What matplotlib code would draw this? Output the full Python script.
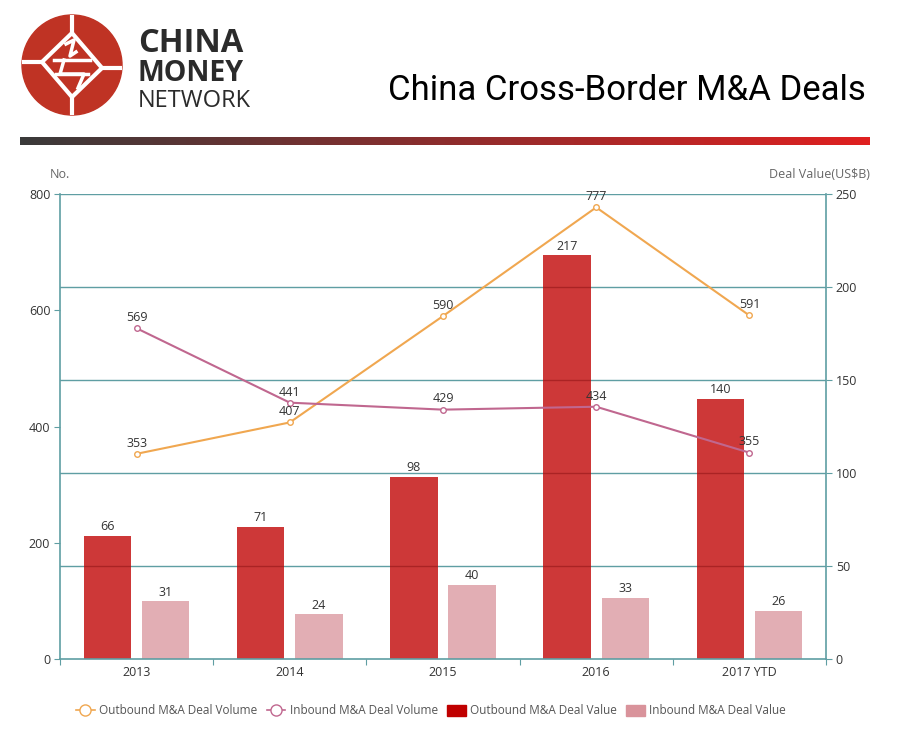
import matplotlib.pyplot as plt
import numpy as np
from matplotlib.lines import Line2D
from matplotlib.patches import Patch, Circle, Polygon

years = ["2013", "2014", "2015", "2016", "2017 YTD"]
out_volume = [353, 407, 590, 777, 591]
in_volume = [569, 441, 429, 434, 355]
out_value = [66, 71, 98, 217, 140]
in_value = [31, 24, 40, 33, 26]

c_out_line = "#f0a750"
c_in_line = "#c0678f"
c_out_bar = "#c00000"
c_in_bar = "#d9939b"
teal = "#5f9ea3"
txt = "#333333"

plt.rcParams['font.family'] = ['Open Sans', 'DejaVu Sans']

fig = plt.figure(figsize=(9.11, 7.5), dpi=100)

# header overlay in pixel coordinates
hd = fig.add_axes([0, 0, 1, 1])
hd.set_xlim(0, 911)
hd.set_ylim(750, 0)
hd.axis("off")

# logo
hd.add_patch(Circle((72, 65), 50, color="#bf3324"))
w = dict(color="white", lw=3, solid_capstyle="butt")
hd.plot([72, 72], [15, 33], **w)
hd.plot([72, 72], [97, 115], **w)
hd.plot([22, 42], [62, 62], **w)
hd.plot([102, 122], [68, 68], **w)
hd.add_patch(Polygon([(72, 33), (42, 62), (72, 97), (102, 68)], closed=True,
                     fill=False, ec="white", lw=3))
# inner glyph strokes
hd.plot([66, 74, 70, 76], [44, 40, 56, 52], color="white", lw=2.5)
hd.plot([54, 90], [60, 60], color="white", lw=2.5)
hd.plot([56, 88], [74, 74], color="white", lw=2.5)
hd.plot([64, 60, 84, 78], [60, 74, 74, 88], color="white", lw=2.5)

hd.text(138, 52, "CHINA", fontsize=23.5, fontweight="bold", color="#2b2b2b",
        va="baseline", ha="left")
hd.text(138, 81, "MONEY", fontsize=20.5, fontweight="bold", color="#2b2b2b",
        va="baseline", ha="left")
hd.text(138, 107, "NETWORK", fontsize=17, color="#2b2b2b",
        va="baseline", ha="left")

hd.text(866, 91, "China Cross-Border M&A Deals", fontsize=25, color="black",
        va="center", ha="right", family=["Roboto", "DejaVu Sans"])

# gradient bar
grad = np.linspace(0, 1, 256)
c0 = np.array([0x3a, 0x3a, 0x3a]) / 255
c1 = np.array([0xe0, 0x20, 0x20]) / 255
img = (c0[None, :] * (1 - grad[:, None]) + c1[None, :] * grad[:, None])[None, :, :]
hd.imshow(img, extent=[20, 870, 145, 137], aspect="auto")
hd.set_xlim(0, 911)
hd.set_ylim(750, 0)

# chart
ax = fig.add_axes([60 / 911, 1 - 659 / 750, (826 - 60) / 911, (659 - 194) / 750])
ax2 = ax.twinx()
ax.set_zorder(ax2.get_zorder() + 1)
ax.patch.set_visible(False)

x = np.arange(len(years))
bw = 0.31
off = 0.19

for yv in [50, 100, 150, 200, 250]:
    ax2.axhline(yv, color=teal, lw=1, zorder=0)

b1 = ax2.bar(x - off, out_value, bw, color=c_out_bar, alpha=0.78, zorder=2)
b2 = ax2.bar(x + off, in_value, bw, color=c_in_bar, alpha=0.75, zorder=2)
for xi, v in zip(x - off, out_value):
    ax2.annotate(str(v), (xi, v), xytext=(0, 2), textcoords="offset points",
                 ha="center", va="bottom", fontsize=9, color=txt)
for xi, v in zip(x + off, in_value):
    ax2.annotate(str(v), (xi, v), xytext=(0, 2), textcoords="offset points",
                 ha="center", va="bottom", fontsize=9, color=txt)

ax.plot(x, out_volume, color=c_out_line, lw=1.5, marker="o", markersize=4,
        markerfacecolor="white", markeredgecolor=c_out_line, zorder=3)
ax.plot(x, in_volume, color=c_in_line, lw=1.5, marker="o", markersize=4,
        markerfacecolor="white", markeredgecolor=c_in_line, zorder=3)
for xi, v in zip(x, out_volume):
    ax.annotate(str(v), (xi, v), xytext=(0, 3), textcoords="offset points",
                ha="center", va="bottom", fontsize=9, color=txt)
for xi, v in zip(x, in_volume):
    ax.annotate(str(v), (xi, v), xytext=(0, 3), textcoords="offset points",
                ha="center", va="bottom", fontsize=9, color=txt)

ax.set_xlim(-0.5, len(years) - 0.5)
ax.set_ylim(0, 800)
ax2.set_ylim(0, 250)
ax.set_yticks([0, 200, 400, 600, 800])
ax2.set_yticks([0, 50, 100, 150, 200, 250])

ax.set_xticks(np.arange(-0.5, len(years), 1.0))
ax.set_xticklabels([])
ax.set_xticks(x, minor=True)
ax.set_xticklabels(years, minor=True)
ax.tick_params(axis="x", which="minor", length=0, pad=5)
ax.tick_params(axis="x", which="major", length=4, color=teal)

for a in (ax, ax2):
    for s in a.spines.values():
        s.set_visible(False)
    a.tick_params(labelsize=9, labelcolor=txt, color=teal)
ax.tick_params(axis="x", which="minor", labelsize=9, labelcolor=txt)
ax.spines["left"].set_visible(True)
ax.spines["left"].set_color(teal)
ax.spines["left"].set_linewidth(1.2)
ax.spines["bottom"].set_visible(True)
ax.spines["bottom"].set_color(teal)
ax.spines["bottom"].set_linewidth(1.2)
ax2.spines["right"].set_visible(True)
ax2.spines["right"].set_color(teal)
ax2.spines["right"].set_linewidth(1.2)
ax.tick_params(axis="y", length=4, pad=3)
ax2.tick_params(axis="y", length=4, pad=3)

fig.text(60 / 911, 1 - 175 / 750, "No.", fontsize=9, color="#666666",
         ha="center", va="center")
fig.text(870 / 911, 1 - 175 / 750, "Deal Value(US$B)", fontsize=9, color="#666666",
         ha="right", va="center")

handles = [
    Line2D([0], [0], color=c_out_line, lw=1.2, marker="o", markersize=8,
           markerfacecolor="white"),
    Line2D([0], [0], color=c_in_line, lw=1.2, marker="o", markersize=8,
           markerfacecolor="white"),
    Patch(color=c_out_bar),
    Patch(color=c_in_bar),
]
labels = ["Outbound M&A Deal Volume", "Inbound M&A Deal Volume",
          "Outbound M&A Deal Value", "Inbound M&A Deal Value"]
leg = fig.legend(handles, labels, loc="center", bbox_to_anchor=(431 / 911, 1 - 711 / 750),
                 ncol=4, frameon=False, fontsize=8.5, handlelength=1.6,
                 handleheight=1.1, handletextpad=0.35, columnspacing=0.8)
for t in leg.get_texts():
    t.set_color("#555555")

fig.savefig("out.png", dpi=100)
